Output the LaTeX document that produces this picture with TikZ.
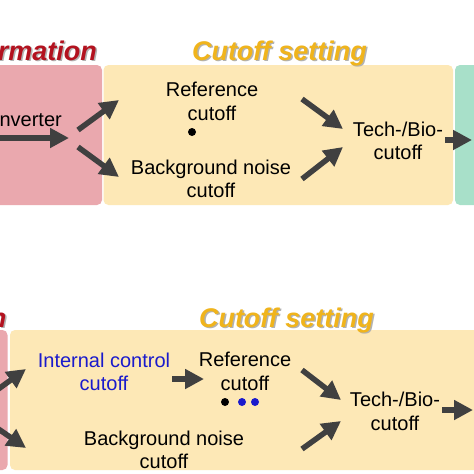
\documentclass[tikz,border=0pt]{standalone}
\usepackage{fontspec}
\setmainfont{Liberation Sans}
\usetikzlibrary{arrows.meta}
\definecolor{pinkbox}{HTML}{EAA8AE}
\definecolor{yellowbox}{HTML}{FDE8B6}
\definecolor{greenbox}{HTML}{A8E0C9}
\definecolor{arrowgray}{HTML}{404040}
\definecolor{titlered}{HTML}{B3121F}
\definecolor{titleorange}{HTML}{F0B41C}
\definecolor{intblue}{HTML}{1A1ACC}
\newcommand{\mytitle}[2]{\rlap{\kern1.5pt\raisebox{-1.5pt}{\textcolor{black!30}{#2}}}\textcolor{#1}{#2}}
\tikzset{
  panel/.style={rounded corners=5pt, draw=none},
  body/.style={font=\fontsize{20}{23.5}\selectfont, align=center, inner sep=0pt, text=black},
  titletext/.style={font=\fontsize{27}{30}\bfseries\itshape\selectfont, inner sep=0pt},
  flow/.style={draw=arrowgray, line width=5.5pt, -{Triangle[length=19pt,width=19pt]}},
  dotmark/.style={circle, inner sep=0pt, minimum size=8pt}
}
\begin{document}
\begin{tikzpicture}[x=1pt,y=-1pt]
\useasboundingbox (0,0) rectangle (474,474);
\fill[white] (0,0) rectangle (474,474);

% ---------- top panel ----------
\fill[pinkbox, panel] (-20,65) rectangle (102,205);
\fill[yellowbox, panel] (103.5,65) rectangle (453,205);
\fill[greenbox, panel] (455,65) rectangle (500,205);

\node[titletext, anchor=base east] (t1) at (97,60) {\mytitle{titlered}{rmation}};
\node[titletext, anchor=base] (c1) at (279.5,60) {\mytitle{titleorange}{Cutoff setting}};

\node[body, anchor=base east] (inv1) at (62,126) {nverter};
\node[body] (ref1) at (212,101.2) {Reference\\cutoff};
\node[body] (bg1) at (211,178.7) {Background noise\\cutoff};
\node[body] (tech1) at (398,140.7) {Tech-/Bio-\\cutoff};
\node[dotmark, fill=black] (d1) at (192,132) {};

\coordinate (a0s) at (-5,138);
\coordinate (a0e) at (69,138);
\coordinate (a1s) at (78,130);
\coordinate (a1e) at (119,100);
\coordinate (a2s) at (78,147);
\coordinate (a2e) at (119,177);
\coordinate (a3s) at (302,99);
\coordinate (a3e) at (343,129);
\coordinate (a4s) at (302,179);
\coordinate (a4e) at (343,147);
\coordinate (a5s) at (445,140);
\coordinate (a5e) at (472,140);
\draw[flow] (a0s) -- (a0e);
\draw[flow] (a1s) -- (a1e);
\draw[flow] (a2s) -- (a2e);
\draw[flow] (a3s) -- (a3e);
\draw[flow] (a4s) -- (a4e);
\draw[flow] (a5s) -- (a5e);

% ---------- bottom panel ----------
\fill[pinkbox, panel] (-20,330) rectangle (7.5,470);
\fill[yellowbox, panel] (10,330) rectangle (500,470);

\node[titletext, anchor=base east] (t2) at (6.5,327) {\mytitle{titlered}{Information}};
\node[titletext, anchor=base] (c2) at (286.5,327) {\mytitle{titleorange}{Cutoff setting}};

\node[body, text=intblue] (int2) at (104,371.7) {Internal control\\cutoff};
\node[body] (ref2) at (245,371.2) {Reference\\cutoff};
\node[body] (bg2) at (164,449.7) {Background noise\\cutoff};
\node[body] (tech2) at (395,411.2) {Tech-/Bio-\\cutoff};
\node[dotmark, fill=black] (d2) at (225,402) {};
\node[dotmark, fill=intblue] (d3) at (242,402) {};
\node[dotmark, fill=intblue] (d4) at (255,402) {};

\coordinate (b1s) at (-3,390);
\coordinate (b1e) at (26,369);
\coordinate (b2s) at (-3,428);
\coordinate (b2e) at (26,448);
\coordinate (b3s) at (172,379);
\coordinate (b3e) at (204,379);
\coordinate (b4s) at (302,370);
\coordinate (b4e) at (341,400);
\coordinate (b5s) at (302,449);
\coordinate (b5e) at (341,421);
\coordinate (b6s) at (442,410);
\coordinate (b6e) at (473,410);
\draw[flow] (b1s) -- (b1e);
\draw[flow] (b2s) -- (b2e);
\draw[flow] (b3s) -- (b3e);
\draw[flow] (b4s) -- (b4e);
\draw[flow] (b5s) -- (b5e);
\draw[flow] (b6s) -- (b6e);
\end{tikzpicture}
\end{document}
